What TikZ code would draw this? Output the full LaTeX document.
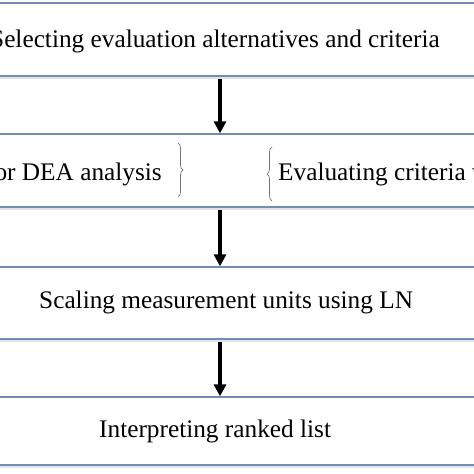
\documentclass[tikz,border=0pt]{standalone}
\usepackage{fontspec}
\setmainfont{Liberation Serif}
\usetikzlibrary{arrows.meta,decorations.pathreplacing,shadows}
\definecolor{boxline}{HTML}{6F8DB5}
\definecolor{boxshadow}{HTML}{9AA6B8}
\begin{document}
\begin{tikzpicture}[x=1pt,y=-1pt,
  box/.style={draw=boxline,line width=1.3pt,fill=white,minimum width=600pt,inner sep=0pt,
    drop shadow={shadow xshift=0pt,shadow yshift=-2.5pt,opacity=0.3,fill=boxshadow}},
  lbl/.style={font=\fontsize{25.3}{30}\selectfont,inner sep=0pt},
  arr/.style={-{Triangle[length=12pt,width=12pt]},line width=3.2pt,shorten <=2.5pt},
  brc/.style={decorate,decoration={brace,amplitude=5pt},draw=black!55,line width=0.7pt}]
\useasboundingbox (0,0) rectangle (474,474);
\clip (0,0) rectangle (474,474);
\fill[white] (0,0) rectangle (474,474);
\node[box,minimum height=73pt] (b1) at (220,39.5) {};
\node[box,minimum height=73pt] (b2) at (220,170.5) {};
\node[box,minimum height=72pt] (b3) at (220,303) {};
\node[box,minimum height=68pt] (b4) at (220,431) {};
\node[lbl,anchor=base west] (t1) at (-10,47) {Selecting evaluation alternatives and criteria};
\node[lbl,anchor=base east] (t2a) at (162,180) {or DEA analysis};
\node[lbl,anchor=base west] (t2b) at (278,180) {Evaluating criteria w};
\node[lbl,anchor=base west] (t3) at (39,308) {Scaling measurement units using LN};
\node[lbl,anchor=base west] (t4) at (99,437) {Interpreting ranked list};
\draw[brc] (178,143) -- (178,197);
\draw[brc] (272,201) -- (272,147);
\draw[arr] (b1.south) -- (b2.north);
\draw[arr] (b2.south) -- (b3.north);
\draw[arr] (b3.south) -- (b4.north);
\end{tikzpicture}
\end{document}
